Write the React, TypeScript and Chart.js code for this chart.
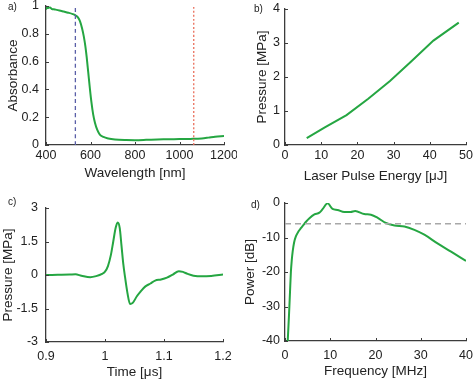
import React, { useEffect, useRef } from 'react';
import { Chart, registerables } from 'chart.js';

Chart.register(...registerables);

const FONT = '"Liberation Sans", Arial, Helvetica, sans-serif';
const TEXT = '#222222';
const AXIS = '#3c3c3c';
const GREEN = '#25a642';

// ---- panel a: absorbance spectrum ----
const wavelengthNm = [400, 405, 410, 418, 425, 440, 460, 480, 500, 520, 535, 545, 553, 562, 570, 577, 583, 590, 597, 604, 612, 620, 630, 642, 658, 680, 710, 760, 800, 850, 900, 950, 1000, 1050, 1100, 1130, 1160, 1200];
const absorbance = [0.975, 0.99, 0.985, 0.99, 0.98, 0.975, 0.968, 0.96, 0.952, 0.942, 0.93, 0.915, 0.89, 0.84, 0.78, 0.71, 0.63, 0.52, 0.41, 0.31, 0.22, 0.16, 0.11, 0.075, 0.058, 0.047, 0.04, 0.036, 0.035, 0.037, 0.04, 0.041, 0.043, 0.044, 0.047, 0.053, 0.06, 0.064];
const excitationNm = [532];
const probeNm = [1064];
const wavelengthTicks = [400, 600, 800, 1000, 1200];
const absorbanceTicks = [0, 0.2, 0.4, 0.6, 0.8, 1];

// ---- panel b: pressure vs pulse energy ----
const pulseEnergyUj = [6, 11, 17, 23, 29, 35, 41, 48];
const peakPressureMPa = [0.2, 0.52, 0.88, 1.36, 1.88, 2.47, 3.07, 3.6];
const energyTicks = [0, 10, 20, 30, 40, 50];
const pressureTicksB = [0, 1, 2, 3, 4];

// ---- panel c: pressure waveform ----
const timeUs = [0.9, 0.92, 0.94, 0.95, 0.96, 0.975, 0.985, 0.995, 1.0, 1.005, 1.01, 1.014, 1.018, 1.0215, 1.025, 1.028, 1.031, 1.034, 1.038, 1.0425, 1.047, 1.054, 1.06, 1.068, 1.077, 1.085, 1.095, 1.105, 1.115, 1.125, 1.132, 1.14, 1.15, 1.165, 1.18, 1.2];
const waveformMPa = [0, 0.01, 0.02, 0.03, -0.03, -0.1, -0.05, 0.05, 0.15, 0.4, 0.9, 1.5, 2.1, 2.35, 2.1, 1.3, 0.5, -0.1, -0.8, -1.3, -1.25, -0.95, -0.75, -0.52, -0.38, -0.25, -0.2, -0.12, 0.02, 0.17, 0.14, 0.05, -0.03, -0.06, -0.04, 0.02];
const timeTicks = [0.9, 1.0, 1.1, 1.2];
const pressureTicksC = [-3, -1.5, 0, 1.5, 3];

// ---- panel d: power spectrum ----
const freqMHz = [0.6, 0.9, 1.1, 1.3, 1.5, 1.7, 2.0, 2.4, 3.0, 3.5, 4.0, 4.6, 5.4, 6.5, 7.6, 8.3, 9.4, 10.5, 11.6, 13.1, 14.5, 15.5, 17.5, 19, 20.5, 22.3, 24.2, 26.4, 28.6, 30.8, 33.7, 36.7, 40];
const powerDb = [-40, -32, -26, -20, -16.5, -14, -11.5, -9.7, -8.2, -7.3, -6.5, -5.5, -4.4, -3.3, -2.8, -1.8, -0.1, -1.7, -2.0, -2.6, -2.6, -2.3, -3.2, -3.4, -4.3, -5.8, -6.5, -6.8, -7.8, -9.2, -11.7, -14.1, -16.8];
const halfPowerDb = [-6];
const freqTicks = [0, 10, 20, 30, 40];
const powerTicks = [-40, -30, -20, -10, 0];

const fmt = (v: number) => String(Number(v.toFixed(3)));
const pts = (xs: number[], ys: number[]) => xs.map((x, i) => ({ x, y: ys[i] }));

const innerTicks = {
  id: 'innerTicks',
  afterDatasetsDraw(chart: any) {
    const { ctx, chartArea, scales } = chart;
    const x = scales.x;
    const y = scales.y;
    ctx.save();
    ctx.strokeStyle = AXIS;
    ctx.lineWidth = 1;
    ctx.beginPath();
    x.ticks.forEach((t: any) => {
      const px = Math.round(x.getPixelForValue(t.value)) + 0.5;
      ctx.moveTo(px, chartArea.bottom);
      ctx.lineTo(px, chartArea.bottom - 3);
    });
    y.ticks.forEach((t: any) => {
      const py = Math.round(y.getPixelForValue(t.value)) + 0.5;
      ctx.moveTo(chartArea.left, py);
      ctx.lineTo(chartArea.left + 3, py);
    });
    ctx.stroke();
    ctx.restore();
  },
};

type AxisSpec = {
  min: number;
  max: number;
  ticks: number[];
  title: string;
  size: number;
  tickPad: number;
  titlePad: number;
};

function axis(spec: AxisSpec, horizontal: boolean) {
  return {
    type: 'linear',
    min: spec.min,
    max: spec.max,
    afterBuildTicks: (s: any) => {
      s.ticks = spec.ticks.map((v) => ({ value: v }));
    },
    afterFit: (s: any) => {
      if (horizontal) {
        s.height = spec.size;
        s.paddingLeft = 0;
        s.paddingRight = 0;
      } else {
        s.width = spec.size;
        s.paddingTop = 0;
        s.paddingBottom = 0;
      }
    },
    ticks: {
      color: TEXT,
      font: { family: FONT, size: 12.5, lineHeight: 1 },
      padding: spec.tickPad,
      maxRotation: 0,
      autoSkip: false,
      callback: (v: number) => fmt(v),
    },
    grid: { display: false, drawTicks: false },
    border: { display: true, color: AXIS, width: 1.3 },
    title: {
      display: true,
      text: spec.title,
      color: TEXT,
      font: { family: FONT, size: 13.5, lineHeight: 1.2 },
      padding: horizontal ? { top: 0, bottom: spec.titlePad } : { top: spec.titlePad, bottom: 0 },
    },
  };
}

function makeConfig(
  datasets: any[],
  xs: AxisSpec,
  ys: AxisSpec,
  padding: { left: number; right: number; top: number; bottom: number },
  tension: number
) {
  return {
    type: 'line',
    data: { datasets },
    options: {
      animation: false,
      responsive: false,
      maintainAspectRatio: false,
      devicePixelRatio: 1,
      layout: { padding },
      elements: {
        point: { radius: 0 },
        line: { tension, cubicInterpolationMode: tension > 0 ? 'monotone' : 'default' },
      },
      plugins: { legend: { display: false }, tooltip: { enabled: false } },
      scales: { x: axis(xs, true), y: axis(ys, false) },
    },
    plugins: [innerTicks],
  };
}

const mainLine = (data: any[]) => ({
  data,
  borderColor: GREEN,
  borderWidth: 2,
  fill: false,
});

const vLine = (x: number, y0: number, y1: number, color: string, dash: number[]) => ({
  data: [
    { x, y: y0 },
    { x, y: y1 },
  ],
  borderColor: color,
  borderWidth: 1.3,
  borderDash: dash,
  tension: 0,
  fill: false,
});

const hLine = (y: number, x0: number, x1: number, color: string, dash: number[]) => ({
  data: [
    { x: x0, y },
    { x: x1, y },
  ],
  borderColor: color,
  borderWidth: 1.4,
  borderDash: dash,
  tension: 0,
  fill: false,
});

const configA = () =>
  makeConfig(
    [
      vLine(excitationNm[0], 0, 1, '#5a5fa8', [4, 3]),
      vLine(probeNm[0], 0, 1, '#ea6f5c', [2, 2]),
      mainLine(pts(wavelengthNm, absorbance)),
    ],
    { min: 400, max: 1200, ticks: wavelengthTicks, title: 'Wavelength [nm]', size: 45, tickPad: 4.5, titlePad: 9 },
    { min: 0, max: 1, ticks: absorbanceTicks, title: 'Absorbance', size: 46, tickPad: 7, titlePad: 5 },
    { left: 0, right: 13, top: 6, bottom: 0 },
    0.3
  );

const configB = () =>
  makeConfig(
    [mainLine(pts(pulseEnergyUj, peakPressureMPa))],
    { min: 0, max: 50, ticks: energyTicks, title: 'Laser Pulse Energy [μJ]', size: 45, tickPad: 4.5, titlePad: 6 },
    { min: 0, max: 4, ticks: pressureTicksB, title: 'Pressure [MPa]', size: 48, tickPad: 5, titlePad: 17 },
    { left: 0, right: 8, top: 9, bottom: 0 },
    0
  );

const configC = () =>
  makeConfig(
    [mainLine(pts(timeUs, waveformMPa))],
    { min: 0.9, max: 1.2, ticks: timeTicks, title: 'Time [μs]', size: 40, tickPad: 8.5, titlePad: 2 },
    { min: -3, max: 3, ticks: pressureTicksC, title: 'Pressure [MPa]', size: 46, tickPad: 8, titlePad: 0 },
    { left: 0, right: 14, top: 18, bottom: 0 },
    0.4
  );

const configD = () =>
  makeConfig(
    [
      hLine(halfPowerDb[0], 0, 40, '#a8a8a8', [6, 4]),
      mainLine(pts(freqMHz, powerDb)),
    ],
    { min: 0, max: 40, ticks: freqTicks, title: 'Frequency [MHz]', size: 41, tickPad: 8, titlePad: 3 },
    { min: -40, max: 0, ticks: powerTicks, title: 'Power [dB]', size: 48, tickPad: 5, titlePad: 5.5 },
    { left: 0, right: 8, top: 13, bottom: 0 },
    0.3
  );

function Panel(props: { left: number; top: number; width: number; height: number; build: () => any }) {
  const ref = useRef<HTMLCanvasElement>(null);
  useEffect(() => {
    const chart = new Chart(ref.current as HTMLCanvasElement, props.build());
    return () => chart.destroy();
  }, []);
  return (
    <canvas
      ref={ref}
      width={props.width}
      height={props.height}
      style={{ position: 'absolute', left: props.left, top: props.top, width: props.width, height: props.height }}
    />
  );
}

const labelStyle = (left: number, top: number): React.CSSProperties => ({
  position: 'absolute',
  left,
  top,
  fontFamily: FONT,
  fontSize: 10,
  lineHeight: '10px',
  color: TEXT,
});

export default function App() {
  return (
    <div style={{ position: 'absolute', left: 0, top: 0, width: 474, height: 382, background: '#ffffff', overflow: 'hidden' }}>
      <Panel left={0} top={0} width={237} height={190} build={configA} />
      <Panel left={237} top={0} width={237} height={190} build={configB} />
      <Panel left={0} top={190} width={237} height={192} build={configC} />
      <Panel left={237} top={190} width={237} height={192} build={configD} />
      <div style={labelStyle(8, 2)}>a)</div>
      <div style={labelStyle(254, 4)}>b)</div>
      <div style={labelStyle(8, 197)}>c)</div>
      <div style={labelStyle(251, 200)}>d)</div>
    </div>
  );
}
